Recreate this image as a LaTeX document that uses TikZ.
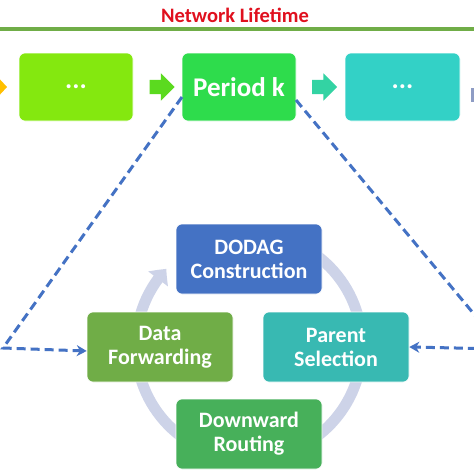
\documentclass[tikz,border=0pt]{standalone}
\usepackage{fontspec}
\setmainfont{Carlito}
\usetikzlibrary{arrows.meta,shapes.arrows,bending,calc}
\definecolor{titlered}{HTML}{E0101E}
\definecolor{linegreen}{HTML}{70AD47}
\definecolor{limec}{HTML}{84E80F}
\definecolor{periodc}{HTML}{2EDC4C}
\definecolor{turqc}{HTML}{33D1C6}
\definecolor{arrA}{HTML}{5BDA1F}
\definecolor{arrB}{HTML}{33D3A3}
\definecolor{dodagc}{HTML}{4472C4}
\definecolor{dfc}{HTML}{70AD47}
\definecolor{psc}{HTML}{38B9B2}
\definecolor{drc}{HTML}{47B05A}
\definecolor{ringc}{HTML}{CDD3E8}
\definecolor{dashc}{HTML}{4472C4}
\definecolor{orangec}{HTML}{FFC000}
\definecolor{grayc}{HTML}{8E9CC4}
\begin{document}
\begin{tikzpicture}[x=1pt,y=-1pt,
  topbox/.style={rectangle, rounded corners=6pt, draw=white, line width=0.6pt, minimum width=114pt, minimum height=68pt, text=white, font=\bfseries\fontsize{27}{30}\selectfont, inner sep=0pt},
  cycbox/.style={rectangle, rounded corners=6pt, draw=white, line width=0.6pt, minimum width=146pt, minimum height=70pt, text=white, align=center, font=\bfseries\fontsize{22}{24}\selectfont, inner sep=0pt},
  blockarrow/.style={single arrow, minimum height=25pt, inner xsep=0pt, inner ysep=7pt, single arrow head extend=6.5pt, single arrow tip angle=90, draw=none},
  dashline/.style={draw=dashc, line width=3pt, dash pattern=on 9pt off 5pt},
  dashtip/.style={-{Stealth[length=10pt,width=11pt]}}
]
\useasboundingbox (0,0) rectangle (474,474);
\fill[white] (0,0) rectangle (474,474);

% title and timeline
\node[text=titlered, font=\bfseries\fontsize{20.5}{22}\selectfont] (title) at (235,15) {Network Lifetime};
\coordinate (lineL) at (0,29);
\coordinate (lineR) at (474,29);
\draw[linegreen, line width=3.5pt] (lineL) -- (lineR);

% edge fragments
\fill[orangec] (-6,73) -- (7,87) -- (-6,101) -- cycle;
\fill[grayc] (471,88) rectangle (476,102);

% top row boxes
\node[topbox, fill=limec] (p1) at (76,87) {...};
\node[topbox, fill=periodc] (pk) at (239,87) {Period k};
\node[topbox, fill=turqc, minimum width=115pt] (p3) at (402.5,87) {...};
\node[blockarrow, fill=arrA] (a1) at (158.5,87) {};
\node[blockarrow, fill=arrB] (a2) at (321,87) {};

% cycle ring
\coordinate (rc) at (249,346);
\draw[ringc, line width=11pt, -{Triangle[bend,length=13pt,width=24pt]}] ($(rc)+(-100:113)$) arc[start angle=-100, end angle=223, radius=113];

% cycle boxes
\node[cycbox, fill=dodagc] (dodag) at (249,259) {DODAG\\Construction};
\node[cycbox, fill=dfc] (df) at (160,347) {Data\\Forwarding};
\node[cycbox, fill=psc] (ps) at (336,347) {Parent\\Selection};
\node[cycbox, fill=drc] (dr) at (249,434) {Downward\\Routing};

% dashed connectors
\coordinate (lstart) at (182,97);
\coordinate (lcorner) at (3,348);
\coordinate (rstart) at (296,100);
\coordinate (rcorner) at (503,349);
\draw[dashline, dashtip] (lstart) -- (lcorner) -- ($(df.west)+(0,4)$);
\draw[dashline, dashtip] (rstart) -- (rcorner) -- (ps.east);
\end{tikzpicture}
\end{document}
